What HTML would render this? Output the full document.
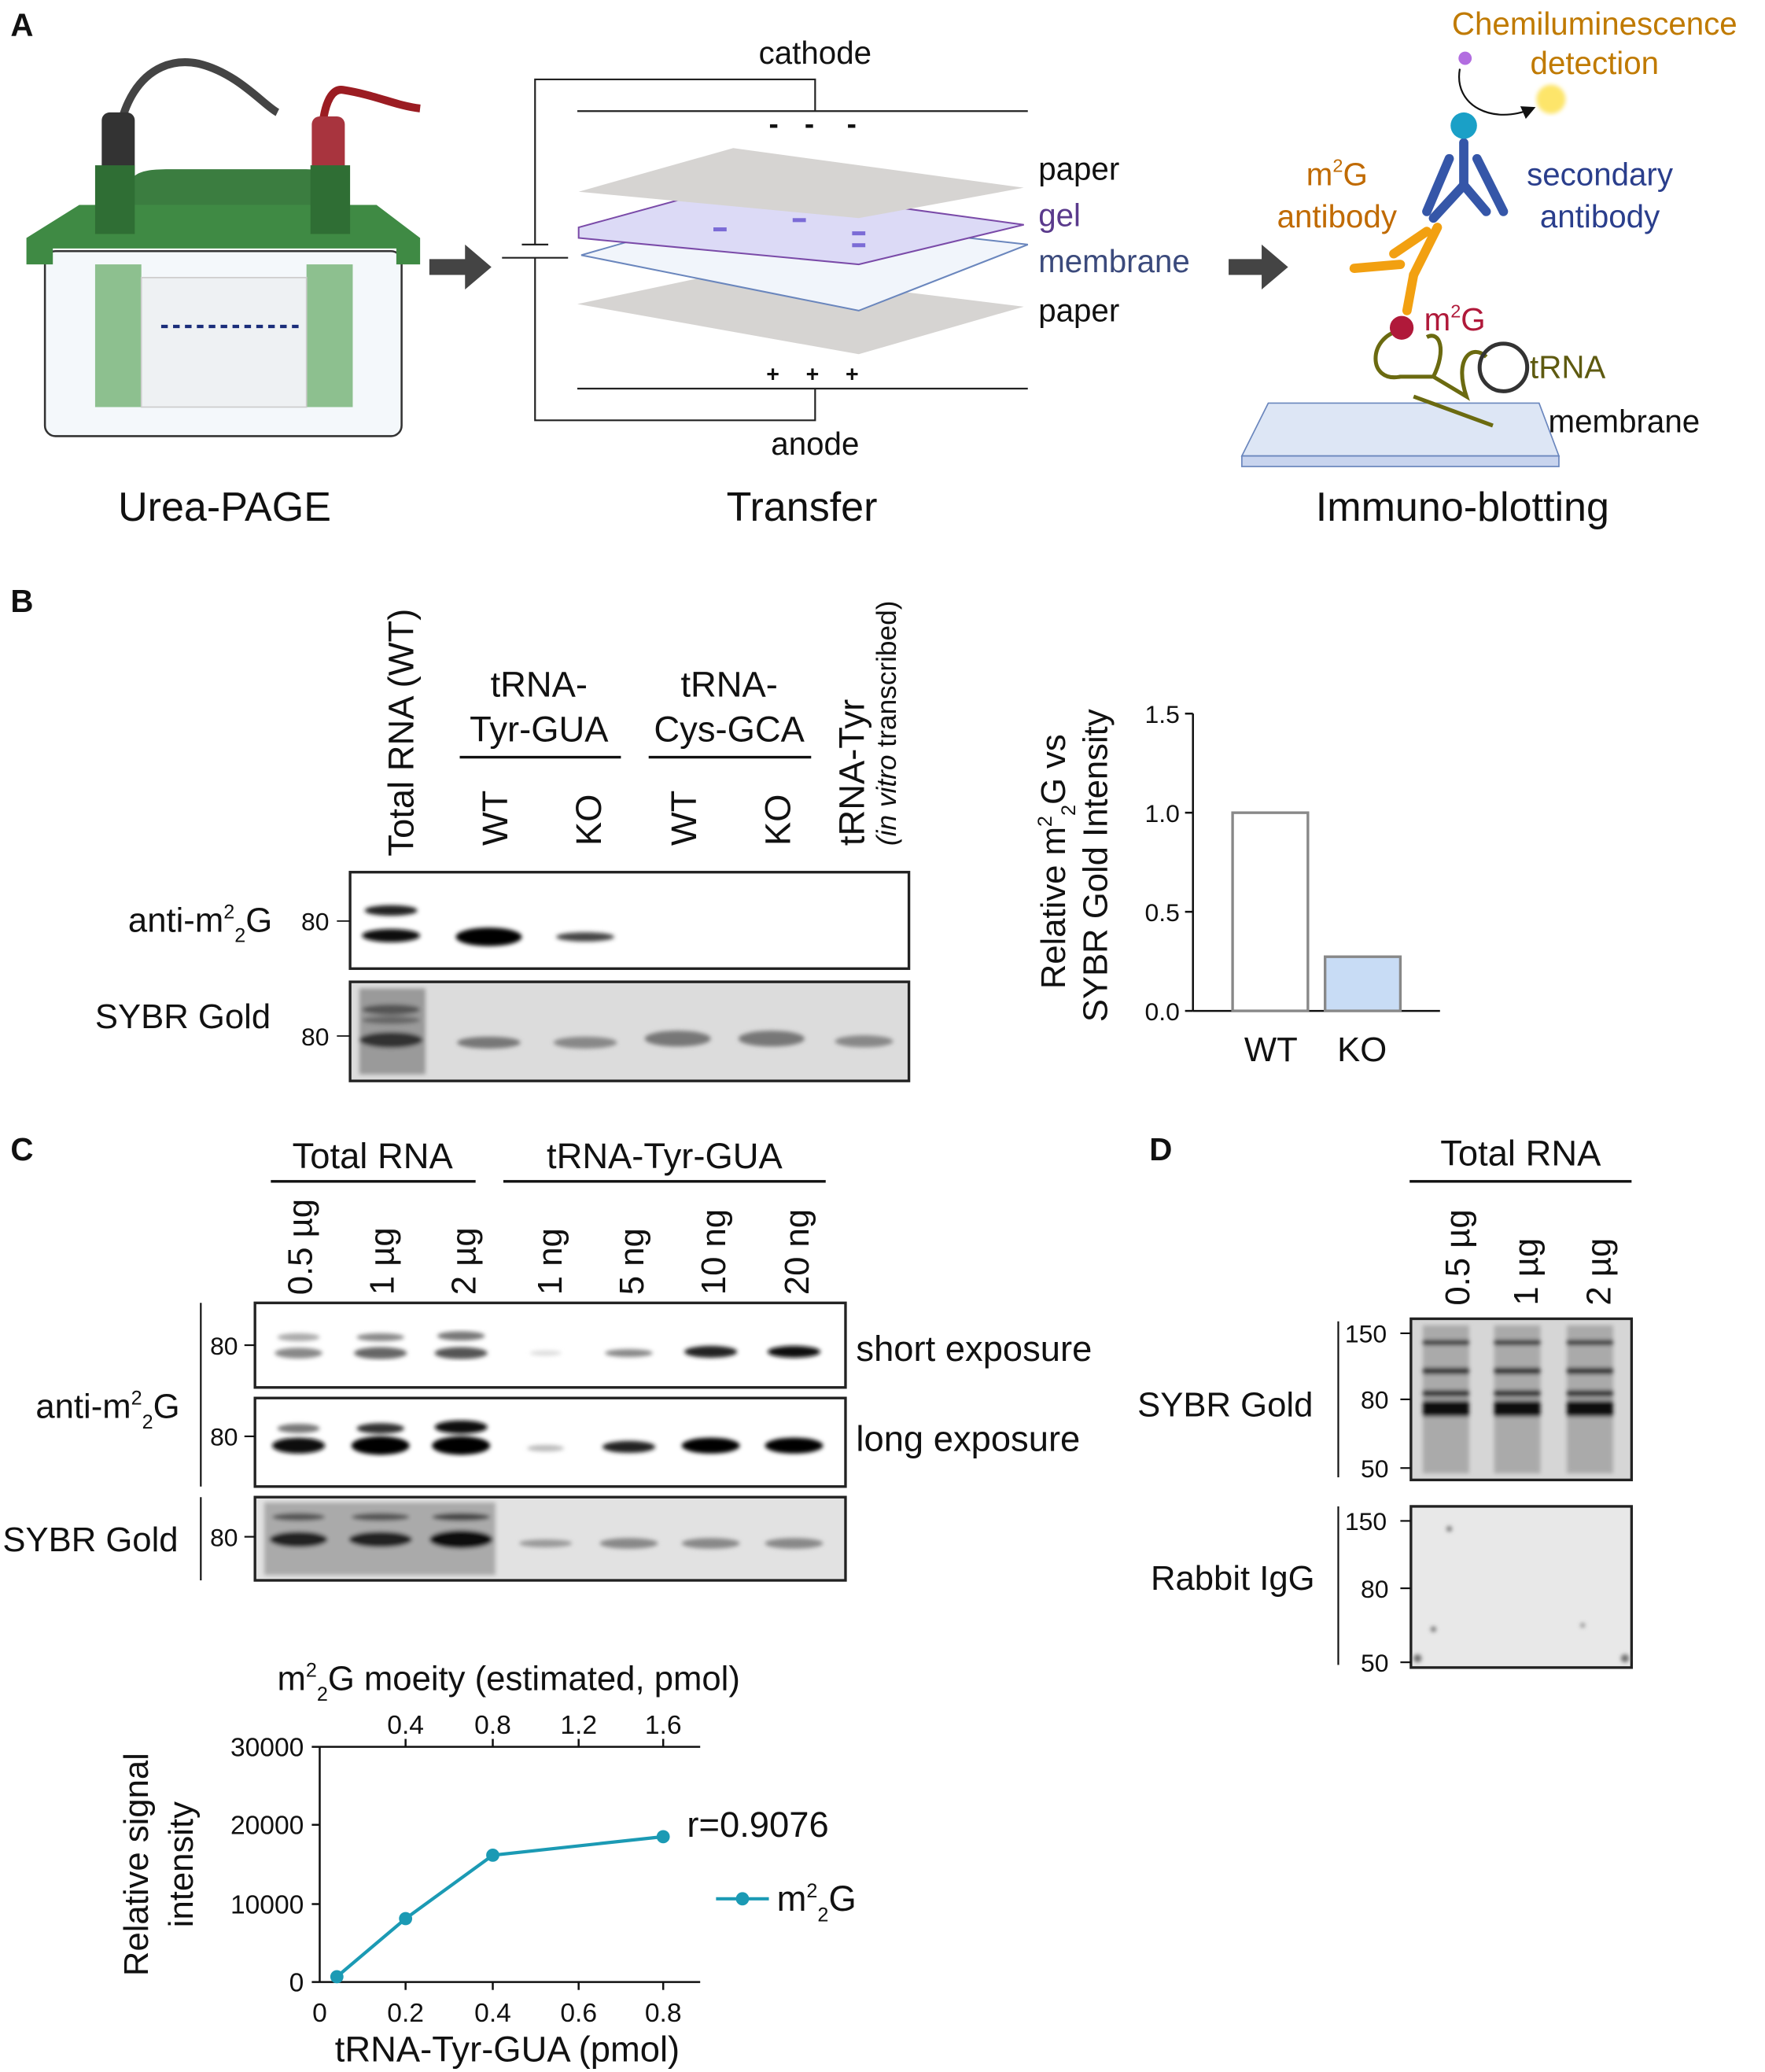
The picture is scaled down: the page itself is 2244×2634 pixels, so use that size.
<!DOCTYPE html>
<html><head><meta charset="utf-8"><style>
html,body{margin:0;padding:0;background:#fff}
svg{display:block}
text{font-family:"Liberation Sans",Arial,sans-serif;fill:#111}
</style></head><body>
<svg width="2244" height="2634" viewBox="0 0 1336 1568" xmlns="http://www.w3.org/2000/svg">
<defs>
<filter id="bl"><feGaussianBlur stdDeviation="1.6"/></filter>
<marker id="ah" markerWidth="8" markerHeight="8" refX="6" refY="4" orient="auto"><path d="M0,0 L8,4 L0,8z" fill="#111"/></marker>
</defs>
<text x="8" y="27" font-size="24" font-weight="bold">A</text>
<path d="M90,150 C80,80 110,40 150,48 C180,55 200,80 210,85" stroke="#444" stroke-width="6" fill="none"/>
<path d="M245,145 C240,100 245,65 260,68 C285,72 300,80 318,82" stroke="#9b1c22" stroke-width="6" fill="none"/>
<rect x="77" y="85" width="25" height="80" rx="6" fill="#333"/>
<rect x="236" y="88" width="25" height="75" rx="6" fill="#a8343e"/>
<rect x="34" y="190" width="270" height="140" rx="8" fill="#f4f8fb" stroke="#333" stroke-width="1.5"/>
<rect x="72" y="200" width="35" height="108" fill="#8dc08f"/>
<rect x="232" y="200" width="35" height="108" fill="#8dc08f"/>
<rect x="107" y="210" width="125" height="98" fill="#eef1f3" stroke="#ccc"/>
<line x1="122" y1="247" x2="230" y2="247" stroke="#1a2d7a" stroke-width="2.5" stroke-dasharray="5,4"/>
<path d="M20,200 L20,180 L60,155 L285,155 L318,180 L318,200 L300,200 L300,188 L40,188 L40,200z" fill="#3f8a44"/>
<path d="M95,155 C95,130 105,128 130,128 L230,128 C250,128 255,135 255,155z" fill="#3b7d40"/>
<rect x="72" y="125" width="30" height="52" fill="#2f6e34"/>
<rect x="235" y="125" width="30" height="52" fill="#2f6e34"/>
<text x="170" y="394" font-size="31" text-anchor="middle">Urea-PAGE</text>
<path d="M325,196 L352,196 L352,185 L372,202 L352,219 L352,208 L325,208z" fill="#444"/>
<path d="M930,196 L955,196 L955,185 L975,202 L955,219 L955,208 L930,208z" fill="#444"/>
<g stroke="#222" stroke-width="1.3" fill="none">
<path d="M405,185 L405,60 L617,60 L617,84"/>
<path d="M405,195 L405,318 L617,318 L617,294"/>
<line x1="437" y1="84" x2="778" y2="84"/>
<line x1="437" y1="294" x2="778" y2="294"/>
<line x1="395" y1="185" x2="415" y2="185"/>
<line x1="380" y1="195" x2="430" y2="195"/>
</g>
<text x="582" y="101" font-size="22" font-weight="bold">-</text><text x="609" y="101" font-size="22" font-weight="bold">-</text><text x="641" y="101" font-size="22" font-weight="bold">-</text>
<text x="580" y="289" font-size="17" font-weight="bold">+</text><text x="610" y="289" font-size="17" font-weight="bold">+</text><text x="640" y="289" font-size="17" font-weight="bold">+</text>
<text x="617" y="48" font-size="24" text-anchor="middle">cathode</text>
<text x="617" y="344" font-size="24" text-anchor="middle">anode</text>
<polygon points="437,230 555,205 775,232 650,268" fill="#d6d4d2"/>
<polygon points="440,193 555,160 778,185 650,235" fill="#f1f5fb" stroke="#6a86bd" stroke-width="1.2"/>
<polygon points="438,172 555,140 775,170 650,200 438,180" fill="#dcdaf6" stroke="#7a4aa8" stroke-width="1.2"/>
<polygon points="438,145 555,112 775,142 650,165" fill="#d6d4d2"/>
<g fill="#7b6bd6"><rect x="540" y="172" width="10" height="3"/><rect x="600" y="165" width="10" height="3"/><rect x="645" y="175" width="10" height="3"/><rect x="645" y="184" width="10" height="3"/></g>
<text x="786" y="136" font-size="24">paper</text>
<text x="786" y="171" font-size="24" style="fill:#5a3a8c">gel</text>
<text x="786" y="206" font-size="24" style="fill:#3b4a7c">membrane</text>
<text x="786" y="243" font-size="24">paper</text>
<text x="607" y="394" font-size="31" text-anchor="middle">Transfer</text>
<polygon points="940,345 960,305 1165,305 1180,345" fill="#dde6f5" stroke="#6a86bd"/>
<rect x="940" y="345" width="240" height="8" fill="#c8d4ee" stroke="#6a86bd"/>
<path d="M1060,250 C1035,255 1035,290 1060,285 L1085,285 C1095,265 1090,250 1080,255 M1085,285 L1110,300 C1100,270 1115,260 1125,270 M1070,300 L1130,322" stroke="#6b6a10" stroke-width="3" fill="none"/>
<circle cx="1138" cy="278" r="18" fill="none" stroke="#333" stroke-width="3"/>
<circle cx="1061" cy="248" r="9" fill="#b0193a"/>
<g stroke="#f2a011" stroke-width="7" stroke-linecap="round"><line x1="1065" y1="235" x2="1070" y2="208"/><line x1="1070" y1="208" x2="1088" y2="172"/><line x1="1060" y1="200" x2="1025" y2="203"/><line x1="1055" y1="192" x2="1080" y2="175"/></g>
<g stroke="#3556a8" stroke-width="7" stroke-linecap="round"><line x1="1108" y1="108" x2="1108" y2="140"/><line x1="1108" y1="140" x2="1085" y2="165"/><line x1="1108" y1="140" x2="1125" y2="160"/><line x1="1097" y1="120" x2="1080" y2="160"/><line x1="1118" y1="120" x2="1138" y2="160"/></g>
<circle cx="1108" cy="95" r="10" fill="#1aa0c7"/>
<circle cx="1109" cy="44" r="5" fill="#b26de0"/>
<path d="M1105,52 C1100,80 1130,95 1160,82" stroke="#111" fill="none" stroke-width="1.3" marker-end="url(#ah)"/>
<circle cx="1174" cy="75" r="11" fill="#fde56b" filter="url(#bl)"/>
<text x="1207" y="26" font-size="24" text-anchor="middle" style="fill:#c07a00">Chemiluminescence</text>
<text x="1207" y="56" font-size="24" text-anchor="middle" style="fill:#c07a00">detection</text>
<text x="1012" y="140" font-size="24" text-anchor="middle" style="fill:#c06a00">m<tspan font-size="14" dy="-10">2</tspan><tspan font-size="24" dy="10">G</tspan></text>
<text x="1012" y="172" font-size="24" text-anchor="middle" style="fill:#c06a00">antibody</text>
<text x="1211" y="140" font-size="24" text-anchor="middle" style="fill:#2a3e8c">secondary</text>
<text x="1211" y="172" font-size="24" text-anchor="middle" style="fill:#2a3e8c">antibody</text>
<text x="1078" y="250" font-size="24" style="fill:#b0193a">m<tspan font-size="14" dy="-10">2</tspan><tspan font-size="24" dy="10">G</tspan></text>
<text x="1158" y="286" font-size="24" style="fill:#5e5a10">tRNA</text>
<text x="1172" y="327" font-size="24">membrane</text>
<text x="1107" y="394" font-size="31" text-anchor="middle">Immuno-blotting</text>

<text x="8" y="463" font-size="24" font-weight="bold">B</text>
<text transform="translate(313,648) rotate(-90)" font-size="27">Total RNA (WT)</text>
<text x="408" y="527" font-size="27" text-anchor="middle">tRNA-</text>
<text x="408" y="561" font-size="27" text-anchor="middle">Tyr-GUA</text>
<text x="552" y="527" font-size="27" text-anchor="middle">tRNA-</text>
<text x="552" y="561" font-size="27" text-anchor="middle">Cys-GCA</text>
<line x1="348" y1="573" x2="470" y2="573" stroke="#111" stroke-width="2"/>
<line x1="491" y1="573" x2="614" y2="573" stroke="#111" stroke-width="2"/>
<text transform="translate(384,640) rotate(-90)" font-size="27">WT</text>
<text transform="translate(455,640) rotate(-90)" font-size="27">KO</text>
<text transform="translate(527,640) rotate(-90)" font-size="27">WT</text>
<text transform="translate(598,640) rotate(-90)" font-size="27">KO</text>
<text transform="translate(654,640) rotate(-90)" font-size="27">tRNA-Tyr</text>
<text transform="translate(678,640) rotate(-90)" font-size="21"><tspan font-style="italic">(in vitro</tspan> transcribed)</text>
<rect x="265" y="660" width="423" height="73" fill="#fff" stroke="#222" stroke-width="2"/>
<g filter="url(#bl)"><ellipse cx="296" cy="689" rx="20" ry="4" fill="#222"/><ellipse cx="296" cy="708" rx="22" ry="5" fill="#111"/><ellipse cx="370" cy="709" rx="25" ry="7" fill="#000"/><ellipse cx="443" cy="709" rx="22" ry="3.5" fill="#444"/></g>
<rect x="265" y="743" width="423" height="75" fill="#dcdcdc" stroke="#222" stroke-width="2"/>
<g filter="url(#bl)"><rect x="272" y="748" width="50" height="65" fill="#9a9a9a"/><ellipse cx="296" cy="764" rx="22" ry="4" fill="#555"/><ellipse cx="296" cy="787" rx="24" ry="6" fill="#333"/><ellipse cx="296" cy="772" rx="22" ry="3" fill="#666"/>
<ellipse cx="370" cy="789" rx="24" ry="4.5" fill="#777"/><ellipse cx="443" cy="789" rx="24" ry="4.5" fill="#888"/><ellipse cx="513" cy="786" rx="25" ry="6" fill="#777"/><ellipse cx="584" cy="786" rx="25" ry="6" fill="#777"/><ellipse cx="654" cy="788" rx="22" ry="4.5" fill="#888"/></g>
<text x="97" y="705" font-size="26">anti-m<tspan font-size="15" dy="-10">2</tspan><tspan font-size="15" dy="18">2</tspan><tspan font-size="26" dy="-8">G</tspan></text>
<text x="228" y="704" font-size="19">80</text><line x1="255" y1="697" x2="265" y2="697" stroke="#111"/>
<text x="72" y="778" font-size="26">SYBR Gold</text>
<text x="228" y="791" font-size="19">80</text><line x1="255" y1="784" x2="265" y2="784" stroke="#111"/>
<g stroke="#111" stroke-width="1.5"><line x1="903" y1="540" x2="903" y2="765"/><line x1="903" y1="765" x2="1090" y2="765"/>
<line x1="897" y1="540" x2="903" y2="540"/><line x1="897" y1="615" x2="903" y2="615"/><line x1="897" y1="690" x2="903" y2="690"/><line x1="897" y1="765" x2="903" y2="765"/></g>
<g font-size="19" text-anchor="end"><text x="893" y="547">1.5</text><text x="893" y="622">1.0</text><text x="893" y="697">0.5</text><text x="893" y="772">0.0</text></g>
<rect x="933" y="615" width="57" height="150" fill="#fff" stroke="#888" stroke-width="2"/>
<rect x="1003" y="724" width="57" height="41" fill="#c8dcf5" stroke="#888" stroke-width="2"/>
<text x="962" y="803" font-size="26" text-anchor="middle">WT</text><text x="1031" y="803" font-size="26" text-anchor="middle">KO</text>
<text transform="translate(806,652) rotate(-90)" font-size="26" text-anchor="middle">Relative m<tspan font-size="15" dy="-10">2</tspan><tspan font-size="15" dy="18">2</tspan><tspan font-size="26" dy="-8">G vs</tspan></text>
<text transform="translate(838,655) rotate(-90)" font-size="26" text-anchor="middle">SYBR Gold Intensity</text>

<text x="8" y="878" font-size="24" font-weight="bold">C</text>
<text x="282" y="884" font-size="27" text-anchor="middle">Total RNA</text>
<text x="503" y="884" font-size="27" text-anchor="middle">tRNA-Tyr-GUA</text>
<line x1="205" y1="894" x2="360" y2="894" stroke="#111" stroke-width="2"/>
<line x1="381" y1="894" x2="625" y2="894" stroke="#111" stroke-width="2"/>
<g font-size="26"><text transform="translate(236,980) rotate(-90)">0.5 µg</text><text transform="translate(298,980) rotate(-90)">1 µg</text><text transform="translate(360,980) rotate(-90)">2 µg</text>
<text transform="translate(425,980) rotate(-90)">1 ng</text><text transform="translate(487,980) rotate(-90)">5 ng</text><text transform="translate(549,980) rotate(-90)">10 ng</text><text transform="translate(612,980) rotate(-90)">20 ng</text></g>
<rect x="193" y="986" width="447" height="64" fill="#fff" stroke="#222" stroke-width="2"/>
<g filter="url(#bl)"><ellipse cx="226" cy="1012" rx="16" ry="3" fill="#aaa"/><ellipse cx="226" cy="1024" rx="18" ry="4" fill="#888"/>
<ellipse cx="288" cy="1012" rx="18" ry="3" fill="#888"/><ellipse cx="288" cy="1024" rx="20" ry="4.5" fill="#666"/>
<ellipse cx="349" cy="1011" rx="18" ry="3.5" fill="#777"/><ellipse cx="349" cy="1024" rx="20" ry="4.5" fill="#555"/>
<ellipse cx="413" cy="1024" rx="12" ry="2" fill="#ddd"/><ellipse cx="476" cy="1024" rx="18" ry="3" fill="#888"/><ellipse cx="538" cy="1023" rx="20" ry="4.5" fill="#222"/><ellipse cx="601" cy="1023" rx="20" ry="4.5" fill="#111"/></g>
<rect x="193" y="1058" width="447" height="67" fill="#fff" stroke="#222" stroke-width="2"/>
<g filter="url(#bl)"><ellipse cx="226" cy="1081" rx="16" ry="3.5" fill="#777"/><ellipse cx="226" cy="1094" rx="20" ry="6" fill="#111"/>
<ellipse cx="288" cy="1081" rx="18" ry="4" fill="#333"/><ellipse cx="288" cy="1094" rx="22" ry="7" fill="#000"/>
<ellipse cx="349" cy="1080" rx="20" ry="5" fill="#111"/><ellipse cx="349" cy="1094" rx="22" ry="7" fill="#000"/>
<ellipse cx="413" cy="1096" rx="14" ry="2.5" fill="#bbb"/><ellipse cx="476" cy="1095" rx="20" ry="4.5" fill="#222"/><ellipse cx="538" cy="1094" rx="22" ry="6" fill="#000"/><ellipse cx="601" cy="1094" rx="22" ry="6" fill="#000"/></g>
<rect x="193" y="1133" width="447" height="63" fill="#e2e2e2" stroke="#222" stroke-width="2"/>
<g filter="url(#bl)"><rect x="200" y="1137" width="175" height="55" fill="#aaa"/><ellipse cx="226" cy="1148" rx="20" ry="3" fill="#555"/><ellipse cx="226" cy="1165" rx="22" ry="6" fill="#222"/>
<ellipse cx="288" cy="1148" rx="22" ry="3" fill="#555"/><ellipse cx="288" cy="1165" rx="24" ry="6" fill="#222"/>
<ellipse cx="349" cy="1148" rx="22" ry="3" fill="#444"/><ellipse cx="349" cy="1165" rx="24" ry="7" fill="#111"/>
<ellipse cx="413" cy="1168" rx="20" ry="3" fill="#999"/><ellipse cx="476" cy="1168" rx="22" ry="4" fill="#888"/><ellipse cx="538" cy="1168" rx="22" ry="4" fill="#888"/><ellipse cx="601" cy="1168" rx="22" ry="4" fill="#888"/></g>
<text x="648" y="1030" font-size="27">short exposure</text>
<text x="648" y="1098" font-size="27">long exposure</text>
<g font-size="19"><text x="159" y="1025">80</text><text x="159" y="1094">80</text><text x="159" y="1170">80</text></g>
<g stroke="#111" stroke-width="1.3"><line x1="185" y1="1018" x2="193" y2="1018"/><line x1="185" y1="1087" x2="193" y2="1087"/><line x1="185" y1="1163" x2="193" y2="1163"/>
<line x1="152" y1="986" x2="152" y2="1125"/><line x1="152" y1="1133" x2="152" y2="1196"/></g>
<text x="27" y="1073" font-size="26">anti-m<tspan font-size="15" dy="-10">2</tspan><tspan font-size="15" dy="18">2</tspan><tspan font-size="26" dy="-8">G</tspan></text>
<text x="2" y="1174" font-size="26">SYBR Gold</text>
<text x="385" y="1279" font-size="26" text-anchor="middle">m<tspan font-size="15" dy="-10">2</tspan><tspan font-size="15" dy="18">2</tspan><tspan font-size="26" dy="-8">G moeity (estimated, pmol)</tspan></text>
<g stroke="#111" stroke-width="1.5"><line x1="242" y1="1322" x2="530" y2="1322"/><line x1="242" y1="1322" x2="242" y2="1500"/><line x1="242" y1="1500" x2="530" y2="1500"/>
<line x1="236" y1="1322" x2="242" y2="1322"/><line x1="236" y1="1381" x2="242" y2="1381"/><line x1="236" y1="1441" x2="242" y2="1441"/><line x1="236" y1="1500" x2="242" y2="1500"/>
<line x1="307" y1="1316" x2="307" y2="1322"/><line x1="373" y1="1316" x2="373" y2="1322"/><line x1="438" y1="1316" x2="438" y2="1322"/><line x1="502" y1="1316" x2="502" y2="1322"/>
<line x1="307" y1="1500" x2="307" y2="1506"/><line x1="373" y1="1500" x2="373" y2="1506"/><line x1="438" y1="1500" x2="438" y2="1506"/><line x1="502" y1="1500" x2="502" y2="1506"/></g>
<g font-size="20" text-anchor="end"><text x="230" y="1329">30000</text><text x="230" y="1388">20000</text><text x="230" y="1448">10000</text><text x="230" y="1507">0</text></g>
<g font-size="20" text-anchor="middle"><text x="307" y="1312">0.4</text><text x="373" y="1312">0.8</text><text x="438" y="1312">1.2</text><text x="502" y="1312">1.6</text>
<text x="242" y="1530">0</text><text x="307" y="1530">0.2</text><text x="373" y="1530">0.4</text><text x="438" y="1530">0.6</text><text x="502" y="1530">0.8</text></g>
<polyline points="255,1496 307,1452 373,1404 502,1390" fill="none" stroke="#1b9ab4" stroke-width="2.5"/>
<g fill="#1b9ab4"><circle cx="255" cy="1496" r="5"/><circle cx="307" cy="1452" r="5"/><circle cx="373" cy="1404" r="5"/><circle cx="502" cy="1390" r="5"/><circle cx="562" cy="1437" r="5"/></g>
<line x1="542" y1="1437" x2="582" y2="1437" stroke="#1b9ab4" stroke-width="2.5"/>
<text x="520" y="1390" font-size="27">r=0.9076</text>
<text x="588" y="1446" font-size="27">m<tspan font-size="15" dy="-10">2</tspan><tspan font-size="15" dy="18">2</tspan><tspan font-size="27" dy="-8">G</tspan></text>
<text x="384" y="1560" font-size="27" text-anchor="middle">tRNA-Tyr-GUA (pmol)</text>
<text transform="translate(112,1411) rotate(-90)" font-size="26" text-anchor="middle">Relative signal</text>
<text transform="translate(146,1411) rotate(-90)" font-size="26" text-anchor="middle">intensity</text>

<text x="870" y="878" font-size="24" font-weight="bold">D</text>
<text x="1151" y="882" font-size="27" text-anchor="middle">Total RNA</text>
<line x1="1067" y1="894" x2="1235" y2="894" stroke="#111" stroke-width="2"/>
<g font-size="26"><text transform="translate(1112,988) rotate(-90)">0.5 µg</text><text transform="translate(1164,988) rotate(-90)">1 µg</text><text transform="translate(1219,988) rotate(-90)">2 µg</text></g>
<rect x="1068" y="998" width="167" height="122" fill="#d6d6d6" stroke="#222" stroke-width="2"/>
<g filter="url(#bl)"><rect x="1077" y="1003" width="35" height="112" fill="#aaa"/><rect x="1131" y="1003" width="35" height="112" fill="#aaa"/><rect x="1186" y="1003" width="35" height="112" fill="#aaa"/>
<g fill="#333"><rect x="1077" y="1014" width="35" height="4"/><rect x="1131" y="1014" width="35" height="4"/><rect x="1186" y="1014" width="35" height="4"/>
<rect x="1077" y="1035" width="35" height="5"/><rect x="1131" y="1035" width="35" height="5"/><rect x="1186" y="1035" width="35" height="5"/>
<rect x="1077" y="1052" width="35" height="5"/><rect x="1131" y="1052" width="35" height="5"/><rect x="1186" y="1052" width="35" height="5"/></g>
<g fill="#111"><rect x="1077" y="1060" width="35" height="12"/><rect x="1131" y="1060" width="35" height="12"/><rect x="1186" y="1060" width="35" height="12"/></g></g>
<rect x="1068" y="1140" width="167" height="122" fill="#e8e8e8" stroke="#222" stroke-width="2"/>
<g fill="#666" filter="url(#bl)"><circle cx="1097" cy="1157" r="2"/><circle cx="1085" cy="1233" r="2"/><circle cx="1198" cy="1230" r="1.5"/><circle cx="1073" cy="1255" r="3"/><circle cx="1230" cy="1255" r="3"/></g>
<g font-size="19"><text x="1018" y="1016">150</text><text x="1030" y="1066">80</text><text x="1030" y="1118">50</text><text x="1018" y="1158">150</text><text x="1030" y="1209">80</text><text x="1030" y="1265">50</text></g>
<g stroke="#111" stroke-width="1.3"><line x1="1060" y1="1009" x2="1068" y2="1009"/><line x1="1060" y1="1059" x2="1068" y2="1059"/><line x1="1060" y1="1111" x2="1068" y2="1111"/><line x1="1060" y1="1151" x2="1068" y2="1151"/><line x1="1060" y1="1202" x2="1068" y2="1202"/><line x1="1060" y1="1258" x2="1068" y2="1258"/>
<line x1="1013" y1="1000" x2="1013" y2="1118"/><line x1="1013" y1="1140" x2="1013" y2="1260"/></g>
<text x="861" y="1072" font-size="26">SYBR Gold</text>
<text x="871" y="1203" font-size="26">Rabbit IgG</text>
</svg>
</body></html>
